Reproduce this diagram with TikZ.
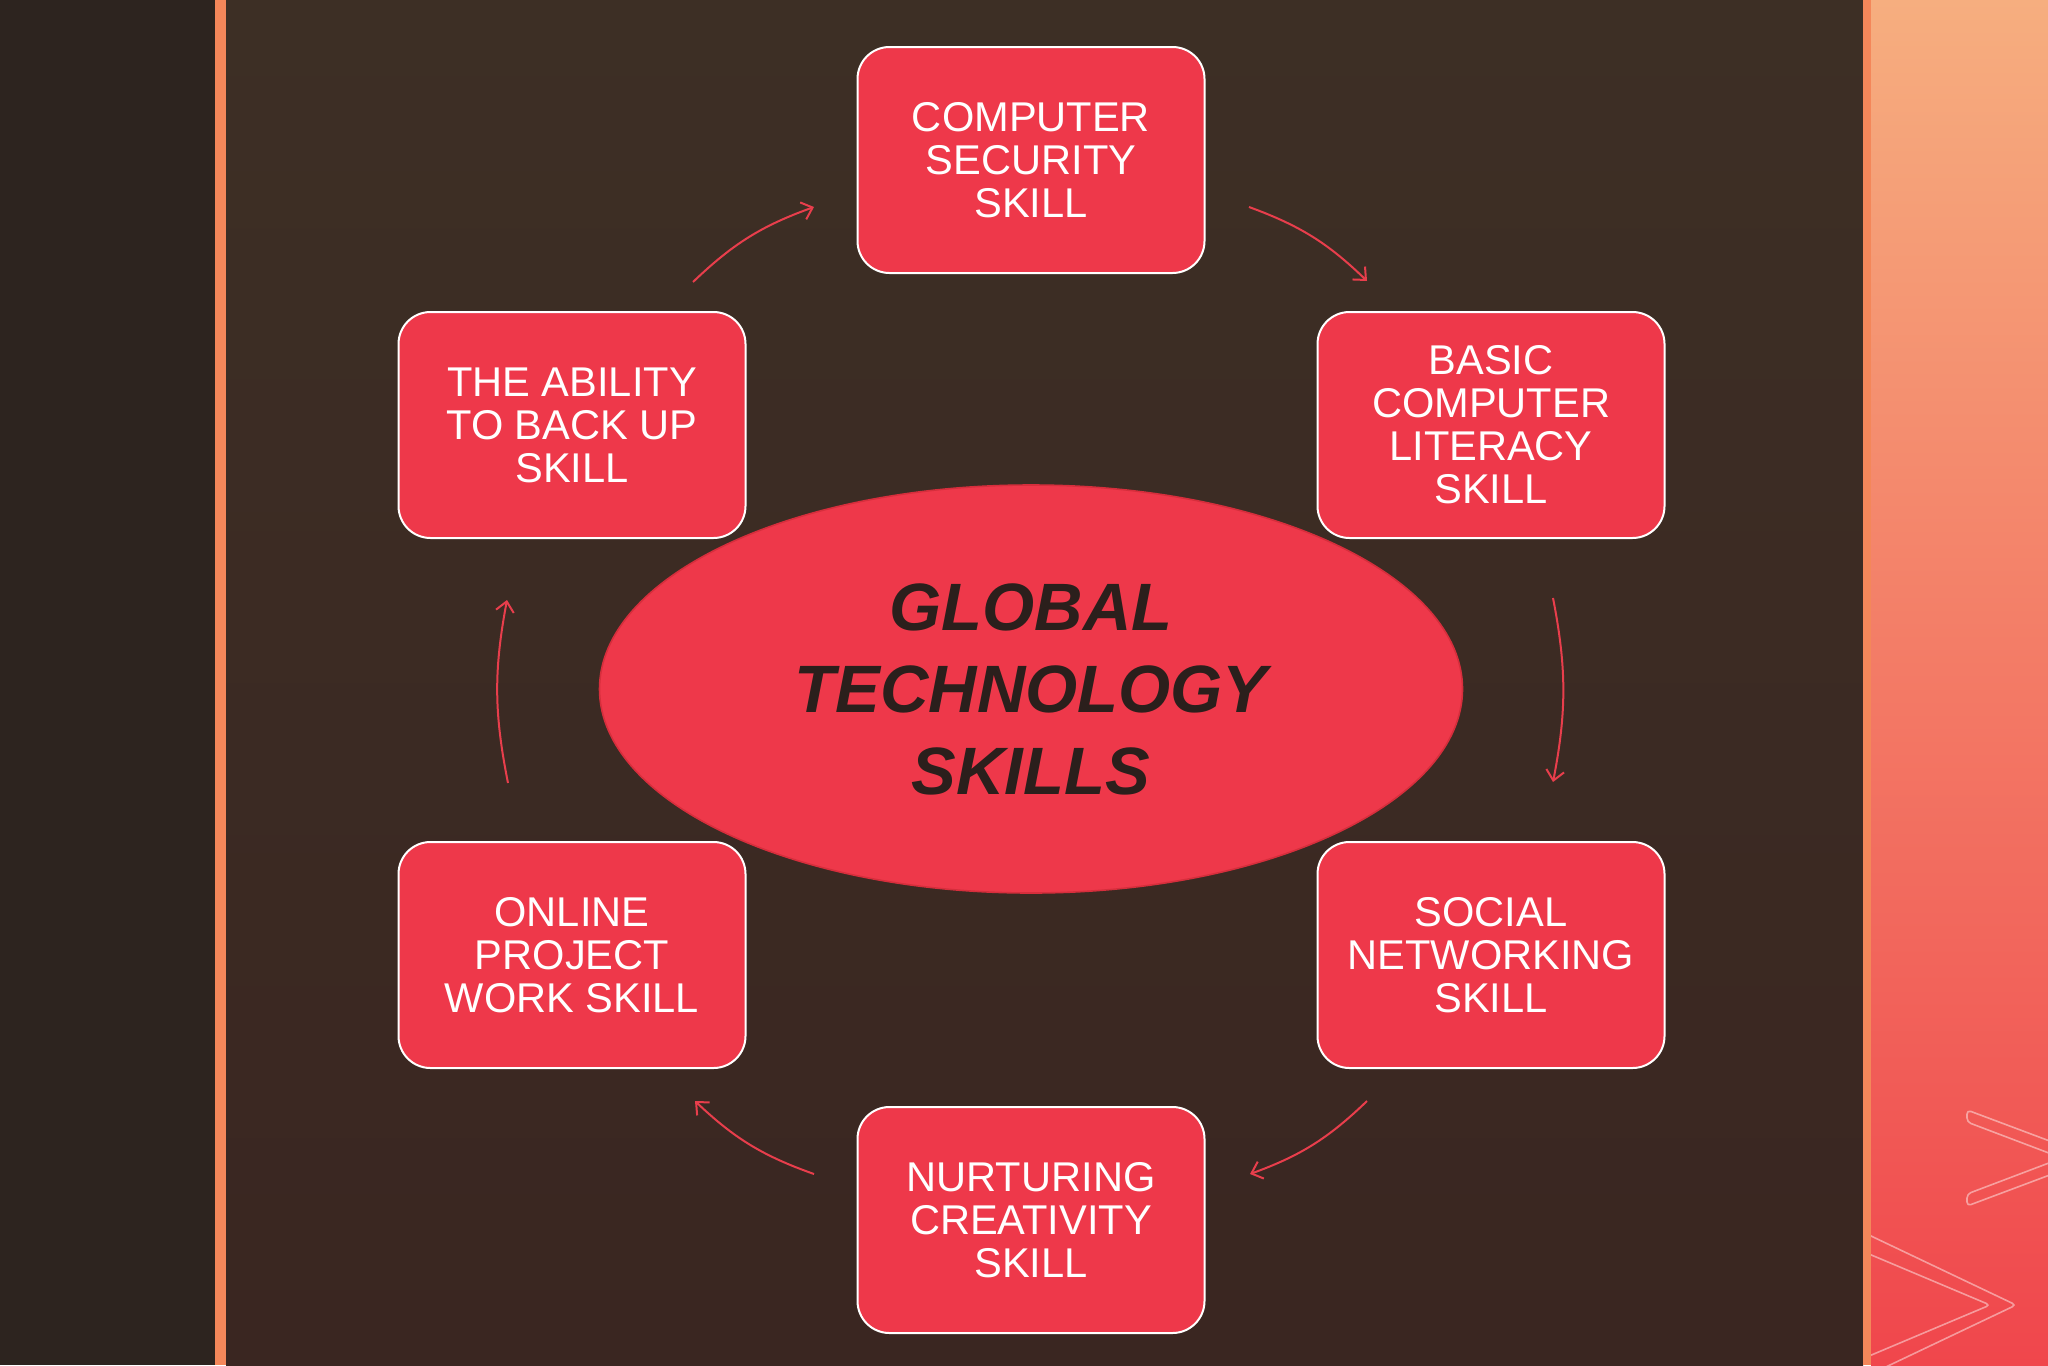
\documentclass[tikz,border=0pt]{standalone}
\usepackage{fontspec}
\setmainfont{Liberation Sans}
\usetikzlibrary{arrows.meta}
\usetikzlibrary{shapes.geometric}

\definecolor{leftdark}{RGB}{45,36,31}
\definecolor{paneltop}{RGB}{61,47,37}
\definecolor{panelbot}{RGB}{58,38,33}
\definecolor{stripe}{RGB}{244,135,90}
\definecolor{skillred}{RGB}{238,56,74}
\definecolor{hubedge}{RGB}{214,46,60}
\definecolor{hubtext}{RGB}{43,31,28}
\definecolor{arrowred}{RGB}{232,62,76}
\definecolor{glowtop}{RGB}{246,174,127}
\definecolor{glowmid}{RGB}{244,152,134}
\definecolor{glowbot}{RGB}{240,70,76}

\tikzset{
  skillbox/.style={draw=white, line width=1pt, fill=skillred, rounded corners=16pt,
    minimum width=173.5pt, minimum height=113pt, align=center, text=white,
    font=\fontsize{20.8}{21.5}\selectfont},
  hub/.style={ellipse, fill=skillred, draw=hubedge, line width=0.8pt,
    minimum width=431.5pt, minimum height=204pt, align=center, text=hubtext,
    font=\fontsize{33.5}{41}\selectfont\bfseries\itshape},
  flow/.style={draw=arrowred, line width=1pt, -{Straight Barb[length=5pt,width=9pt]}},
  chevron/.style={draw=white, draw opacity=0.45, line width=0.8pt, rounded corners=2pt}
}

\begin{document}
\begin{tikzpicture}[x=0.5pt,y=0.5pt,yscale=-1,xscale=1]
\useasboundingbox (0,0) rectangle (2048,1365);

%Shape: Background panels
\fill[leftdark] (0,0) rectangle (215,1365);
\fill[stripe] (215,0) rectangle (226,1365);
\shade[top color=paneltop, bottom color=panelbot] (226,0) rectangle (1863,1365);
\fill[stripe] (1863,0) rectangle (1871,1365);
\shade[top color=glowtop, middle color=glowmid, bottom color=glowbot] (1871,0) rectangle (2048,1365);

%Shape: Chevrons
\begin{scope}
\clip (1871,0) rectangle (2048,1365);
\draw[chevron] (1967,1110) -- (2095,1158) -- (1967,1206) -- (1967,1194) -- (2062,1158) -- (1967,1122) -- cycle;
\draw[chevron] (1850,1226) -- (2016,1305) -- (1850,1384) -- (1850,1364) -- (1990,1305) -- (1850,1246) -- cycle;
\end{scope}

%Shape: Ellipse
\node[hub] (hub) at (1031,689) {GLOBAL\\TECHNOLOGY\\SKILLS};

% Text Node
\node[skillbox] (security) at (1031,160) {COMPUTER\\SECURITY\\SKILL};
% Text Node
\node[skillbox] (literacy) at (1491,425) {BASIC\\COMPUTER\\LITERACY\\SKILL};
% Text Node
\node[skillbox] (social) at (1491,955) {SOCIAL\\NETWORKING\\SKILL};
% Text Node
\node[skillbox] (creativity) at (1031,1220) {NURTURING\\CREATIVITY\\SKILL};
% Text Node
\node[skillbox] (online) at (572,955) {ONLINE\\PROJECT\\WORK SKILL};
% Text Node
\node[skillbox] (backup) at (572,425) {THE ABILITY\\TO BACK UP\\SKILL};

%Curve Lines
\coordinate (a1) at (693,282);
\coordinate (b1) at (814,207);
\coordinate (a2) at (1249,207);
\coordinate (b2) at (1367,281);
\coordinate (a3) at (1553,598);
\coordinate (b3) at (1553,782);
\coordinate (a4) at (1367,1101);
\coordinate (b4) at (1250,1174);
\coordinate (a5) at (814,1174);
\coordinate (b5) at (695,1101);
\coordinate (a6) at (508,783);
\coordinate (b6) at (507,600);

\draw[flow] (a1) to[bend right=12] (b1);
\draw[flow] (a2) to[bend right=12] (b2);
\draw[flow] (a3) to[bend right=11] (b3);
\draw[flow] (a4) to[bend right=12] (b4);
\draw[flow] (a5) to[bend right=12] (b5);
\draw[flow] (a6) to[bend right=11] (b6);

\end{tikzpicture}
\end{document}
